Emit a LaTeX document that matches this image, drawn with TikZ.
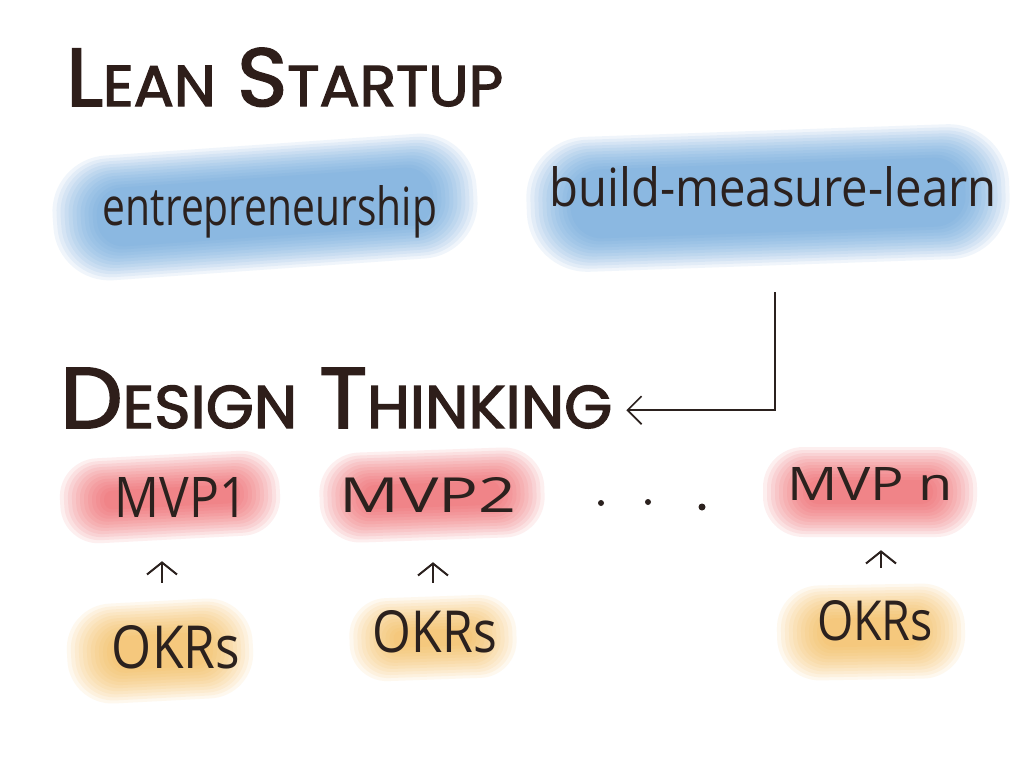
\documentclass[tikz,border=0pt]{standalone}
\usepackage{fontspec}
\setmainfont{Open Sans}
\newfontfamily\titlefont{Poppins}[FakeBold=2.2]
\usepackage{graphicx}
\usetikzlibrary{arrows.meta,backgrounds}
\definecolor{ink}{HTML}{2B211E}
\definecolor{tink}{HTML}{2E1E1A}
\definecolor{bluec}{HTML}{5A9BD8}
\definecolor{redc}{HTML}{EF4F55}
\definecolor{orangec}{HTML}{F5B446}
\newcommand\blob[6]{%
 \begin{scope}[shift={(#2,#3)}, rotate=#6]
 \foreach \k in {0,...,11}{%
   \pgfmathsetmacro\bw{#4/2-4*\k}%
   \pgfmathsetmacro\bh{#5/2-3*\k}%
   \pgfmathsetmacro\rc{0.9*\bh}%
   \fill[#1, opacity=0.09, rounded corners={\rc pt}] (-\bw,-\bh) rectangle (\bw,\bh);
 }
 \end{scope}}
\newcommand\ttl[2]{{\fontsize{80}{80}\selectfont #1}{\fontsize{56}{56}\selectfont #2}}
\begin{document}
\begin{tikzpicture}[x=1pt,y=-1pt,
  title/.style={font=\titlefont, text=tink, inner sep=0pt},
  lab/.style={text=ink, inner sep=0pt, anchor=base},
  conn/.style={draw=ink, line width=1.6pt, -{Straight Barb[length=14pt,width=28pt]}},
  sarr/.style={draw=ink, line width=2pt, -{Straight Barb[length=12pt,width=30pt]}}]
\useasboundingbox (0,0) rectangle (1024,768);

% titles
\node[title, anchor=base west] (lean) at (66,106)
  {\resizebox{437pt}{58pt}{\ttl{L}{EAN}\hspace{20pt}\ttl{S}{TARTUP}}};
\node[title, anchor=base west] (dt) at (60,428)
  {\resizebox{552pt}{60pt}{\ttl{D}{ESIGN}\hspace{20pt}\ttl{T}{HINKING}}};

% labels
\node[lab] (ent) at (270,225) {\resizebox{334pt}{40pt}{entrepreneurship}};
\node[lab] (bml) at (773,206) {\resizebox{447pt}{40pt}{build-measure-learn}};
\node[lab] (m1) at (181,517) {\resizebox{133pt}{40pt}{MVP1}};
\node[lab] (m2) at (428,512) {\resizebox{177pt}{35pt}{MVP2}};
\node[lab] (mn) at (870,500) {\resizebox{166pt}{33pt}{MVP n}};
\node[lab] (o1) at (176,668) {\resizebox{128pt}{43pt}{OKRs}};
\node[lab] (o2) at (435,652) {\resizebox{124pt}{42pt}{OKRs}};
\node[lab] (o3) at (875,640) {\resizebox{116pt}{40pt}{OKRs}};

% dots
\fill[ink] (601,503) circle (3);
\fill[ink] (648,502) circle (3);
\fill[ink] (702,507) circle (3.5);

% connectors
\coordinate (c1) at (775,292);
\draw[conn, shorten >=14pt] (c1) |- ([yshift=-12pt]dt.east);

\coordinate (x1) at (162,0);
\coordinate (x2) at (433,0);
\coordinate (x3) at (881,0);
\draw[sarr, shorten <=42pt, shorten >=44pt] (o1.north -| x1) -- (m1.south -| x1);
\draw[sarr, shorten <=27pt, shorten >=50pt] (o2.north -| x2) -- (m2.south -| x2);
\draw[sarr, shorten <=32pt, shorten >=50pt] (o3.north -| x3) -- (mn.south -| x3);

\begin{scope}[on background layer]
\fill[white] (0,0) rectangle (1024,768);
\blob{bluec}{265}{207}{425}{125}{4}
\blob{bluec}{768}{198}{483}{135}{2}
\blob{redc}{170}{497}{220}{85}{3}
\blob{redc}{432}{495}{225}{90}{2}
\blob{redc}{870}{492}{214}{90}{0}
\blob{orangec}{160}{651}{186}{100}{3}
\blob{orangec}{433}{638}{167}{83}{2}
\blob{orangec}{871}{632}{188}{95}{1}
\end{scope}
\end{tikzpicture}
\end{document}
